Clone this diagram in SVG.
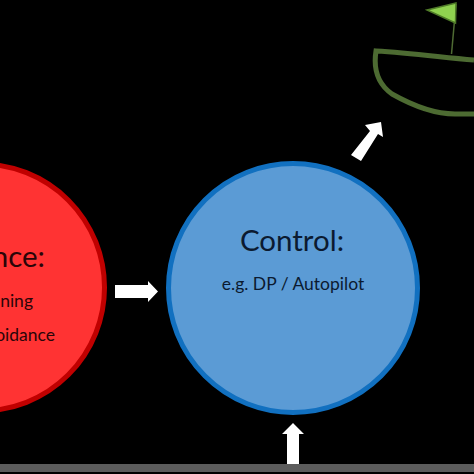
<svg xmlns="http://www.w3.org/2000/svg" width="474" height="474" viewBox="0 0 474 474">
<style>
.t{font-family:Lato,"Liberation Sans",sans-serif}
.r{fill:#2a0508}
.b{fill:#0b1a30}
.h{font-size:29.5px}
.s{font-size:17.5px}
.a{fill:#fff}
</style>
<rect width="474" height="474" fill="#000"/>
<g id="guidance">
<circle cx="-19" cy="287.5" r="123.5" fill="#ff3333" stroke="#c00000" stroke-width="5"/>
<text class="t r h" x="45" y="267" text-anchor="end">nce:</text>
<text class="t r s" x="33" y="306.500" text-anchor="end">ning</text>
<text class="t r s" x="55" y="341" text-anchor="end">oidance</text>
</g>
<g id="control">
<circle cx="293" cy="288" r="124.5" fill="#5b9bd5" stroke="#1170c0" stroke-width="5"/>
<text class="t b h" x="292" y="251" text-anchor="middle">Control:</text>
<text class="t b s" x="293" y="289.500" text-anchor="middle">e.g. DP / Autopilot</text>
</g>
<g id="vessel">
<path d="M456 4L451.500 54" fill="none" stroke="#4f6b33" stroke-width="1.500"/>
<path d="M474 60C440 57 410 53 376 51C373 70 378 84 392 94C408 103 432 114 455 114L474 114" fill="none" stroke="#4d6b32" stroke-width="5"/>
<polygon points="427,10 456,3 455.500,23" fill="#8fd14f" stroke="#4f7a28" stroke-width="1.500"/>
</g>
<g id="connectors">
<polygon class="a" points="115,285 148,285 148,281 158,291.500 148,302 148,298 115,298"/>
<polygon class="a" points="351,155 370,131 365,125 381,122 383,137 378,134 361,161"/>
<polygon class="a" points="287,465 287,434 282,434 293,423 304,434 299,434 299,465"/>
</g>
<g id="ground">
<rect x="0" y="464" width="474" height="8" fill="#5c5c5c"/>
</g>
</svg>
